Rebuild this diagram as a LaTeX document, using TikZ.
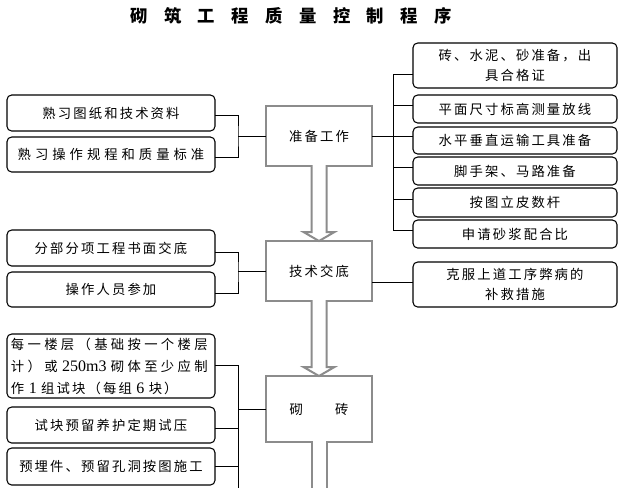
\documentclass[tikz,border=0pt]{standalone}
\usepackage{fontspec}
\setmainfont{Liberation Serif}
\newfontfamily\cjk[LetterSpace=16]{Noto Sans CJK SC}
\newfontfamily\cjkw[LetterSpace=25]{Noto Sans CJK SC}
\newfontfamily\cjkx[LetterSpace=30]{Noto Sans CJK SC}
\newfontfamily\cjkt[LetterSpace=95]{Noto Sans CJK SC}
\newfontfamily\lat[Scale=1.2]{Liberation Serif}
\usetikzlibrary{calc}
\definecolor{gline}{RGB}{140,140,140}
\tikzset{
  rbox/.style={draw=black, line width=0.8pt, rounded corners=3.5pt, fill=white,
    inner sep=0pt, outer sep=0pt, minimum width=156pt, align=center,
    font={\fontsize{10pt}{14.5pt}\selectfont\cjk}},
  rboxr/.style={rbox, minimum width=153pt},
  gbox/.style={draw=gline, line width=1.5pt, fill=white, inner sep=0pt, outer sep=0pt,
    minimum width=79.5pt, font={\fontsize{10pt}{14.5pt}\selectfont\cjk}},
  garrow/.style={draw=gline, line width=1.5pt, fill=white, line join=miter},
  conn/.style={draw=black, line width=0.75pt}
}
\begin{document}
\begin{tikzpicture}[x=0.75pt,y=-0.75pt]
\clip (0,0) rectangle (632,487);
\fill[white] (0,0) rectangle (632,487);
% title
\node[anchor=west, inner sep=0pt, font={\fontsize{13pt}{15pt}\selectfont\cjkt\bfseries}] (title) at (130,16) {砌筑工程质量控制程序};
% left boxes
\node[rbox, minimum height=27pt] (l1) at (111,113) {熟习图纸和技术资料};
\node[rbox, minimum height=26.25pt, font={\fontsize{10pt}{14.5pt}\selectfont\cjkx}] (l2) at (111,154.5) {熟习操作规程和质量标准};
\node[rbox, minimum height=27pt] (l3) at (111,248) {分部分项工程书面交底};
\node[rbox, minimum height=26.25pt] (l4) at (111,289.5) {操作人员参加};
\node[rbox, minimum height=48pt, text width=150pt, inner xsep=3pt, align=left,
  font={\fontsize{10pt}{16.5pt}\selectfont\cjk}] (bA) at (111,366)
  {{\cjkw 每一楼层（基础按一个楼层}\\{\cjkw 计）或 {\lat 250m3} 砌体至少应制}\\{\cjk 作 {\lat 1} 组试块（每组 {\lat 6} 块）}};
\node[rbox, minimum height=27pt] (bB) at (111,425) {试块预留养护定期试压};
\node[rbox, minimum height=27.75pt] (bC) at (111,466.5) {预埋件、预留孔洞按图施工};
% right boxes
\node[rboxr, minimum height=33.75pt] (r1) at (515,65.5) {砖、水泥、砂准备，出\\具合格证};
\node[rboxr, minimum height=21pt] (r2) at (515,109) {平面尺寸标高测量放线};
\node[rboxr, minimum height=20.25pt] (r3) at (515,140.5) {水平垂直运输工具准备};
\node[rboxr, minimum height=21pt] (r4) at (515,171) {脚手架、马路准备};
\node[rboxr, minimum height=21.75pt] (r5) at (515,202.5) {按图立皮数杆};
\node[rboxr, minimum height=21pt] (r6) at (515,234) {申请砂浆配合比};
\node[rboxr, minimum height=33.75pt, font={\fontsize{10pt}{15pt}\selectfont\cjk}] (r7) at (515,284.5) {克服上道工序弊病的\\补救措施};
% central boxes
\node[gbox, minimum height=45pt] (prep) at (319,136) {准备工作};
\node[gbox, minimum height=45pt] (tech) at (319,271) {技术交底};
\node[gbox, minimum height=49.5pt] (brick) at (319,409) {砌\hspace{24pt}砖};
% hollow arrows
\draw[garrow] ($(prep.south)+(-7.5,-1)$) -- ($(tech.north)+(-7.5,-9)$) -- ($(tech.north)+(-15.5,-9)$) -- (tech.north) -- ($(tech.north)+(15.5,-9)$) -- ($(tech.north)+(7.5,-9)$) -- ($(prep.south)+(7.5,-1)$);
\draw[garrow] ($(tech.south)+(-7.5,-1)$) -- ($(brick.north)+(-7.5,-9)$) -- ($(brick.north)+(-15.5,-9)$) -- (brick.north) -- ($(brick.north)+(15.5,-9)$) -- ($(brick.north)+(7.5,-9)$) -- ($(tech.south)+(7.5,-1)$);
\draw[garrow] ($(brick.south)+(-7.5,-1)$) -- ($(brick.south)+(-7.5,60)$) -- ($(brick.south)+(7.5,60)$) -- ($(brick.south)+(7.5,-1)$);
% connectors: preparation
\coordinate (ba) at (238,136);
\draw[conn] ($(l1.east)+(0,2)$) -| (ba) |- ($(l2.east)+(0,2.5)$);
\draw[conn] (ba) -- (prep.west);
\draw[conn] ($(r1.west)+(0,8.5)$) -- ++(-20,0) |- ($(r6.west)+(0,-4)$);
\draw[conn] ($(r2.west)+(0,-4)$) -- ++(-20,0);
\draw[conn] ($(r4.west)+(0,-4)$) -- ++(-20,0);
\draw[conn] ($(r5.west)+(0,-3.5)$) -- ++(-20,0);
\draw[conn] (prep.east) -- (prep.east -| r3.west);
% connectors: technical briefing
\coordinate (bb) at (238,271);
\draw[conn] ($(l3.east)+(0,4)$) -| (bb) |- ($(l4.east)+(0,3.5)$);
\draw[conn] (bb) -- (tech.west);
\coordinate (c7) at ($(r7.west)+(0,-2.5)$);
\draw[conn] (tech.east |- c7) -- (c7);
% connectors: bricklaying
\coordinate (bc) at (238,409);
\coordinate (bend) at (238,500);
\draw[conn] ($(bA.east)+(0,-1)$) -| (bend);
\draw[conn] ($(bB.east)+(0,3)$) -- ($(bB.east)+(23,3)$);
\draw[conn] (bC.east) -- ++(23,0);
\draw[conn] (bc) -- (brick.west);
\end{tikzpicture}
\end{document}
